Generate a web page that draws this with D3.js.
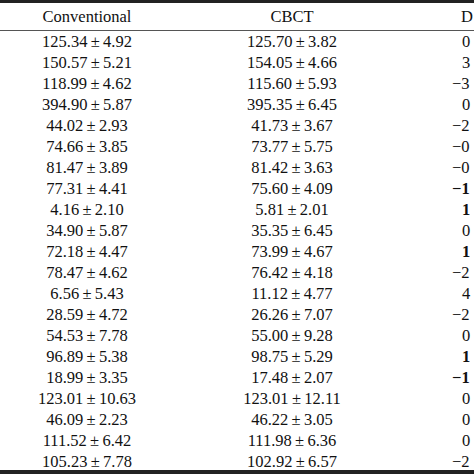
<!DOCTYPE html><html><head><meta charset="utf-8"><script src="https://cdn.jsdelivr.net/npm/d3@7"></script>
<style>body{margin:0;background:#fff}svg{display:block}</style></head><body><script>
const headers = ["Conventional","CBCT","D"];
const conventional = ["125.34±4.92","150.57±5.21","118.99±4.62","394.90±5.87","44.02±2.93","74.66±3.85","81.47±3.89","77.31±4.41","4.16±2.10","34.90±5.87","72.18±4.47","78.47±4.62","6.56±5.43","28.59±4.72","54.53±7.78","96.89±5.38","18.99±3.35","123.01±10.63","46.09±2.23","111.52±6.42","105.23±7.78"];
const cbct = ["125.70±3.82","154.05±4.66","115.60±5.93","395.35±6.45","41.73±3.67","73.77±5.75","81.42±3.63","75.60±4.09","5.81±2.01","35.35±6.45","73.99±4.67","76.42±4.18","11.12±4.77","26.26±7.07","55.00±9.28","98.75±5.29","17.48±2.07","123.01±12.11","46.22±3.05","111.98±6.36","102.92±6.57"];
const diffPrefix = ["0","3","−3","0","−2","−0","−0","−1","1","0","1","−2","4","−2","0","1","−1","0","0","0","−2"];
const diffBold = [0,0,0,0,0,0,0,1,1,0,1,0,0,0,0,1,1,0,0,0,0];

const W=474,H=474;
const svg=d3.select("body").append("svg").attr("width",W).attr("height",H).style("font-family","'Liberation Serif','DejaVu Serif',serif").style("font-size","16.5px").attr("fill","#111");
const y=d3.scaleBand().domain(d3.range(conventional.length)).range([32,472]);
const x=d3.scalePoint().domain([0,1]).range([87,292]);
svg.append("rect").attr("x",0).attr("y",0).attr("width",W).attr("height",3).attr("fill","#222");
svg.append("rect").attr("x",0).attr("y",470).attr("width",W).attr("height",4).attr("fill","#222");
svg.append("rect").attr("x",0).attr("y",30).attr("width",W).attr("height",1).attr("fill","#555");
headers.slice(0,2).forEach((h,i)=>svg.append("text").attr("x",x(i)).attr("y",22).attr("text-anchor","middle").text(h));
svg.append("text").attr("x",461).attr("y",22).text(headers[2]);
[conventional,cbct].forEach((col,i)=>svg.append("g").selectAll("text").data(col).join("text")
 .attr("x",x(i)).attr("y",(d,j)=>y(j)+y.bandwidth()/2+5).attr("text-anchor","middle").text(d=>d.replace("±","\u2009±\u2009")));
svg.append("g").selectAll("text").data(diffPrefix).join("text")
 .attr("x",(d)=>d.startsWith("−")?452:462).attr("y",(d,j)=>y(j)+y.bandwidth()/2+5)
 .attr("font-weight",(d,j)=>diffBold[j]?"bold":"normal").text(d=>d);
</script></body></html>
